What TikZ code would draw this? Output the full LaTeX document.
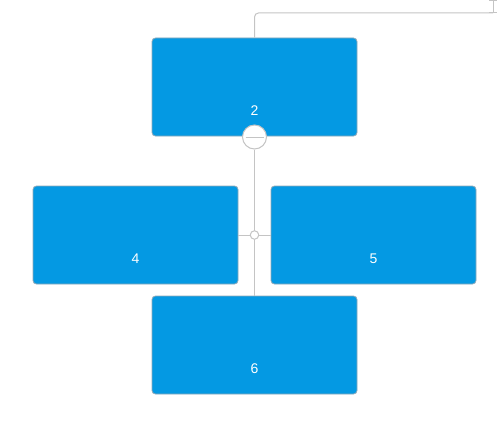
\documentclass[tikz,border=0pt]{standalone}
\usepackage{fontspec}
\setmainfont{Liberation Sans}
\begin{document}
\begin{tikzpicture}[x=1pt,y=-1pt,
  box/.style={draw=boxedge,fill=boxblue,rounded corners=3.5pt,minimum width=205pt,minimum height=98pt,inner sep=0pt,line width=0.8pt},
  lbl/.style={text=white,font=\fontsize{14}{16}\selectfont,anchor=center,yshift=26pt},
  conn/.style={draw=linegrey,line width=1pt},
  knob/.style={circle,draw=linegrey,fill=white,line width=1pt,inner sep=0pt}]
\definecolor{boxblue}{HTML}{0499E3}
\definecolor{boxedge}{HTML}{8FA8B8}
\definecolor{linegrey}{HTML}{C4C4C4}
\useasboundingbox (0,0) rectangle (497,444);
\node[box,label={[lbl]south:2}] (b2) at (254.5,87) {};
\node[box,label={[lbl]south:4}] (b4) at (135.5,235) {};
\node[box,label={[lbl]south:5}] (b5) at (373.5,235) {};
\node[box,label={[lbl]south:6}] (b6) at (254.5,345) {};
\coordinate (top) at (493,13);
\draw[conn,rounded corners=4pt] (b2.north) |- (top);
\draw[conn] (493,1) -- (493,13);
\draw[conn] (489,1) -- (497,1);
\draw[conn] (489,13) -- (497,13);
\node[knob,minimum size=24pt] (col) at (254.5,137) {};
\draw[conn] (b4.east) -- (b5.west);
\draw[conn] (col.south) -- (b6.north);
\draw[conn] ([xshift=-9pt]col.center) -- ([xshift=9pt]col.center);
\node[knob,minimum size=8.5pt] (hub) at (254.5,235) {};
\end{tikzpicture}
\end{document}
